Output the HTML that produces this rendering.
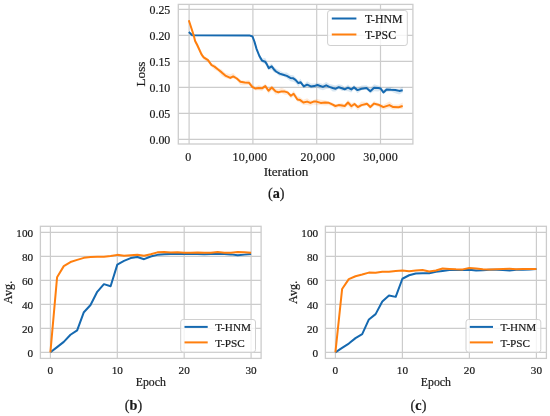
<!DOCTYPE html>
<html><head><meta charset="utf-8"><title>Figure</title>
<style>html,body{margin:0;padding:0;background:#fff;}body{width:550px;height:416px;overflow:hidden;}svg{display:block;}text{font-family:'Liberation Serif', 'Times New Roman', serif;fill:#1a1a1a;stroke:#1a1a1a;stroke-width:0.2px;}</style>
</head><body>
<svg width="550" height="416" viewBox="0 0 550 416">
<rect x="0" y="0" width="550" height="416" fill="#fff"/>
<g stroke="#cccccc" stroke-width="1.2"><line x1="189.1" y1="4.4" x2="189.1" y2="144"/><line x1="252.9" y1="4.4" x2="252.9" y2="144"/><line x1="316.7" y1="4.4" x2="316.7" y2="144"/><line x1="380.5" y1="4.4" x2="380.5" y2="144"/><line x1="178.3" y1="139.4" x2="412.9" y2="139.4"/><line x1="178.3" y1="113.4" x2="412.9" y2="113.4"/><line x1="178.3" y1="87.4" x2="412.9" y2="87.4"/><line x1="178.3" y1="61.4" x2="412.9" y2="61.4"/><line x1="178.3" y1="35.4" x2="412.9" y2="35.4"/><line x1="178.3" y1="9.4" x2="412.9" y2="9.4"/></g>
<rect x="178.3" y="4.4" width="234.6" height="139.6" fill="none" stroke="#cccccc" stroke-width="1.3"/>
<polygon points="252.5,34.55 254.4,39.26 256.5,46.01 259.4,54.53 262,58.6 265.2,58.11 266.6,60.65 268.8,65.38 271.7,63.49 273.8,66.63 276,68.61 279.6,70.52 283.2,72.61 286.8,72.59 290.4,74.91 293.3,75.32 295.5,77.51 298.4,80.7 300.5,78.86 303.8,84.67 307.1,81.17 310.9,83.61 314.2,83.56 317.4,82.8 319.6,83.1 322.9,83.99 326.2,82.01 329.4,84.01 332.7,84.7 335.4,85.41 338.7,84.22 342,85.06 344.7,87.24 348,84.42 351.3,87.77 354,85.07 357.5,88.03 361.5,85.47 366.5,85.23 370.3,88.31 374.1,84.36 378.4,85.47 380.6,86.39 383.4,89.66 386.6,87.53 391,87.04 395.3,88.47 399.2,88.78 402.7,86.82 402.7,92.46 399.2,94.41 395.3,93.31 391,91.58 386.6,91.72 383.4,93.91 380.6,90.11 378.4,91.6 374.1,91.26 370.3,93.45 366.5,89.54 361.5,90.34 357.5,93.2 354,89.17 351.3,92.57 348,91.28 344.7,90.88 342,90.98 338.7,89.1 335.4,91.47 332.7,91.52 329.4,88.69 326.2,88.88 322.9,90.35 319.6,89.19 317.4,87.7 314.2,88.37 310.9,88.49 307.1,87.08 303.8,88.31 300.5,83.85 298.4,86.56 295.5,82.97 293.3,81.73 290.4,81.24 286.8,78.36 283.2,76.21 279.6,76.32 276,73.08 273.8,72.24 271.7,69.61 268.8,69.97 266.6,66.37 265.2,64.16 262,62.55 259.4,59.25 256.5,50.38 254.4,44.24 252.5,39.12" fill="#1569b0" fill-opacity="0.16" stroke="none"/>
<polygon points="195.1,38.86 197.2,42.15 201.5,51.8 203.7,55.73 208,58.58 211.6,63.61 214.5,64.24 218.1,67.79 221.7,69.6 225.3,72.91 230.3,74.35 233.2,73.11 236.8,76.75 240.4,79.69 244.8,80.67 249.1,79.98 252.2,84.18 255.5,87.03 258.7,84.99 262,86.18 265.3,83.68 268.5,87.64 271.8,85.53 275.6,88.83 278.4,89.18 281.6,87.84 284.9,89.26 287.6,90.63 290.9,94.18 293.6,90.71 297.4,96.17 300.2,97.16 303.4,99.81 307.1,98.35 310.4,100.44 313.6,100.03 316.4,98.76 320.7,99.68 325.1,100.23 328.4,101.21 332.2,102.6 335.4,104.43 338.7,103.38 342,103.12 344.7,104.39 348,99.87 351.3,102.99 354.5,101.96 357.8,104.89 361.5,101.59 367,101.98 370.3,104.96 374.1,100.89 378.4,103.25 383.4,104.86 389.4,101.6 393.2,104.55 398.6,104.4 402.7,102.62 402.7,109.12 398.6,108.86 393.2,109.87 389.4,108.03 383.4,109.76 378.4,107.04 374.1,105.61 370.3,109.39 367,105.74 361.5,106.87 357.8,110.45 354.5,106.34 351.3,109.51 348,105.85 344.7,108.41 342,108.72 338.7,107.07 335.4,109.1 332.2,106.09 328.4,105.14 325.1,105.38 320.7,104.95 316.4,105.19 313.6,104.56 310.4,105.77 307.1,105.08 303.4,104.93 300.2,102.82 297.4,101.62 293.6,96.48 290.9,98.58 287.6,94.9 284.9,94.68 281.6,93.1 278.4,94.26 275.6,94.73 271.8,90.18 268.5,93.75 265.3,88.19 262,91 258.7,90.26 255.5,90.48 252.2,88.38 249.1,85.04 244.8,85.2 240.4,85 236.8,80.19 233.2,78.47 230.3,79.44 225.3,77.9 221.7,75.89 218.1,71.42 214.5,69.83 211.6,66.84 208,62.48 203.7,59.84 201.5,56.63 197.2,46.6 195.1,42.77" fill="#ff7f0e" fill-opacity="0.16" stroke="none"/>
<polyline points="188.8,32.1 192.2,35.2 249.3,35.4 252.5,36.5 254.4,41.5 256.5,48.8 259.4,56 262,60.6 265.2,61.7 266.6,63.9 268.8,68.2 271.7,66.3 273.8,69.2 276,71.5 279.6,73.6 283.2,74.7 286.8,75.9 290.4,77.9 293.3,78.3 295.5,79.8 298.4,83.1 300.5,82.2 303.8,86.4 307.1,84.7 310.9,86.4 314.2,86.1 317.4,85 319.6,85.8 322.9,86.9 326.2,85.3 329.4,86.9 332.7,88 335.4,88.8 338.7,87.2 342,88.3 344.7,89.3 348,87.7 351.3,89.4 354,87.4 357.5,90.1 361.5,88.8 366.5,88 370.3,91.3 374.1,87.7 378.4,88 380.6,88.5 383.4,92.4 386.6,89.4 391,89.8 395.3,90 399.2,90.9 402.7,90.2" fill="none" stroke="#1569b0" stroke-width="2" stroke-linejoin="round" stroke-linecap="butt"/>
<polyline points="188.8,20.3 193.7,35.2 195.1,41 197.2,45 201.5,54.4 203.7,57.3 208,60.1 211.6,65.2 214.5,66.6 218.1,69.5 221.7,72.4 225.3,75.6 230.3,77.9 233.2,76.4 236.8,78.5 240.4,81.8 244.8,82.5 249.1,82.8 252.2,86.8 255.5,88.6 258.7,87.9 262,88.3 265.3,86.1 268.5,90.8 271.8,87.5 275.6,91.4 278.4,92.2 281.6,91.4 284.9,91.6 287.6,92.4 290.9,95.7 293.6,93.8 297.4,99.5 300.2,100.1 303.4,102.5 307.1,101.6 310.4,102.9 313.6,101.6 316.4,101.6 320.7,102.9 325.1,102.5 328.4,102.7 332.2,104.4 335.4,106 338.7,105.1 342,105.4 344.7,106 348,102.5 351.3,106.2 354.5,104 357.8,107.1 361.5,105.1 367,103.8 370.3,106.9 374.1,103.6 378.4,104.7 383.4,107.1 389.4,105.1 393.2,107.1 398.6,107.3 402.7,106" fill="none" stroke="#ff7f0e" stroke-width="2" stroke-linejoin="round" stroke-linecap="butt"/>
<rect x="327.6" y="10.5" width="79.7" height="35" rx="2.5" fill="#fff" fill-opacity="0.8" stroke="#d0d0d0" stroke-width="1"/>
<line x1="331.8" y1="18.5" x2="356.4" y2="18.5" stroke="#1569b0" stroke-width="2"/>
<line x1="331.8" y1="34.5" x2="356.4" y2="34.5" stroke="#ff7f0e" stroke-width="2"/>
<text x="365" y="22.6" font-size="11.8">T-HNM</text>
<text x="365" y="38.6" font-size="11.8">T-PSC</text>
<text x="170.3" y="143.8" font-size="11.9" text-anchor="end">0.00</text>
<text x="170.3" y="117.8" font-size="11.9" text-anchor="end">0.05</text>
<text x="170.3" y="91.8" font-size="11.9" text-anchor="end">0.10</text>
<text x="170.3" y="65.8" font-size="11.9" text-anchor="end">0.15</text>
<text x="170.3" y="39.8" font-size="11.9" text-anchor="end">0.20</text>
<text x="170.3" y="13.8" font-size="11.9" text-anchor="end">0.25</text>
<text x="188.3" y="160.9" font-size="12" letter-spacing="0.3" text-anchor="middle">0</text>
<text x="249.95" y="160.9" font-size="12" letter-spacing="0.3" text-anchor="middle">10,000</text>
<text x="317.85" y="160.9" font-size="12" letter-spacing="0.3" text-anchor="middle">20,000</text>
<text x="380.65" y="160.9" font-size="12" letter-spacing="0.3" text-anchor="middle">30,000</text>
<text x="286" y="176.4" font-size="13.2" text-anchor="middle">Iteration</text>
<text transform="translate(145.4,74) rotate(-90)" x="0" y="0" font-size="13.2" text-anchor="middle">Loss</text>
<text x="276.3" y="197.8" font-size="14.2" text-anchor="middle">(<tspan font-weight="bold">a</tspan>)</text>
<g stroke="#cccccc" stroke-width="1.2"><line x1="50.4" y1="226.3" x2="50.4" y2="358.4"/><line x1="117.3" y1="226.3" x2="117.3" y2="358.4"/><line x1="184.2" y1="226.3" x2="184.2" y2="358.4"/><line x1="251.1" y1="226.3" x2="251.1" y2="358.4"/><line x1="40.4" y1="352.3" x2="261.1" y2="352.3"/><line x1="40.4" y1="328.3" x2="261.1" y2="328.3"/><line x1="40.4" y1="304.3" x2="261.1" y2="304.3"/><line x1="40.4" y1="280.3" x2="261.1" y2="280.3"/><line x1="40.4" y1="256.3" x2="261.1" y2="256.3"/><line x1="40.4" y1="232.3" x2="261.1" y2="232.3"/></g>
<rect x="40.4" y="226.3" width="220.7" height="132.1" fill="none" stroke="#cccccc" stroke-width="1.3"/>
<polyline points="50.4,352.3 57.09,347.14 63.78,341.86 70.47,334.78 77.16,330.34 83.85,312.22 90.54,305.02 97.23,291.82 103.92,284.14 110.61,286.18 117.3,264.58 123.99,260.86 130.68,258.1 137.37,257.02 144.06,259.18 150.75,256.54 157.44,254.86 164.13,254.26 170.82,253.9 177.51,253.9 184.2,253.9 190.89,253.9 197.58,253.9 204.27,254.14 210.96,253.9 217.65,253.66 224.34,253.9 231.03,254.38 237.72,255.34 244.41,254.62 251.1,253.9" fill="none" stroke="#1569b0" stroke-width="2" stroke-linejoin="round" stroke-linecap="butt"/>
<polyline points="50.4,352.3 57.09,277.18 63.78,266.14 70.47,262.06 77.16,259.9 83.85,257.86 90.54,256.9 97.23,256.78 103.92,256.78 110.61,256.06 117.3,254.86 123.99,255.82 130.68,255.34 137.37,254.86 144.06,255.82 150.75,254.26 157.44,252.34 164.13,251.98 170.82,252.46 177.51,252.34 184.2,252.7 190.89,252.7 197.58,252.46 204.27,252.7 210.96,252.7 217.65,252.1 224.34,252.7 231.03,252.7 237.72,252.1 244.41,252.34 251.1,252.7" fill="none" stroke="#ff7f0e" stroke-width="2" stroke-linejoin="round" stroke-linecap="butt"/>
<rect x="180.7" y="319.5" width="74.8" height="32.7" rx="2.5" fill="#fff" fill-opacity="0.8" stroke="#d0d0d0" stroke-width="1"/>
<line x1="184.5" y1="326.9" x2="207.7" y2="326.9" stroke="#1569b0" stroke-width="2"/>
<line x1="184.5" y1="342.4" x2="207.7" y2="342.4" stroke="#ff7f0e" stroke-width="2"/>
<text x="215.3" y="331.2" font-size="11.2">T-HNM</text>
<text x="215.3" y="346.7" font-size="11.2">T-PSC</text>
<text x="33.1" y="356.8" font-size="11.2" text-anchor="end">0</text>
<text x="33.1" y="332.8" font-size="11.2" text-anchor="end">20</text>
<text x="33.1" y="308.8" font-size="11.2" text-anchor="end">40</text>
<text x="33.1" y="284.8" font-size="11.2" text-anchor="end">60</text>
<text x="33.1" y="260.8" font-size="11.2" text-anchor="end">80</text>
<text x="33.1" y="236.8" font-size="11.2" text-anchor="end">100</text>
<text x="50.4" y="373.9" font-size="11.2" text-anchor="middle">0</text>
<text x="117.3" y="373.9" font-size="11.2" text-anchor="middle">10</text>
<text x="184.2" y="373.9" font-size="11.2" text-anchor="middle">20</text>
<text x="251.1" y="373.9" font-size="11.2" text-anchor="middle">30</text>
<text x="150.75" y="386" font-size="11.8" text-anchor="middle">Epoch</text>
<text transform="translate(11.8,292.35) rotate(-90)" font-size="12.2" text-anchor="middle">Avg.</text>
<text x="133.5" y="410" font-size="14.2" text-anchor="middle">(<tspan font-weight="bold">b</tspan>)</text>
<g stroke="#cccccc" stroke-width="1.2"><line x1="335.4" y1="226.3" x2="335.4" y2="358.4"/><line x1="402.4" y1="226.3" x2="402.4" y2="358.4"/><line x1="469.4" y1="226.3" x2="469.4" y2="358.4"/><line x1="536.4" y1="226.3" x2="536.4" y2="358.4"/><line x1="325.4" y1="352.3" x2="546.4" y2="352.3"/><line x1="325.4" y1="328.3" x2="546.4" y2="328.3"/><line x1="325.4" y1="304.3" x2="546.4" y2="304.3"/><line x1="325.4" y1="280.3" x2="546.4" y2="280.3"/><line x1="325.4" y1="256.3" x2="546.4" y2="256.3"/><line x1="325.4" y1="232.3" x2="546.4" y2="232.3"/></g>
<rect x="325.4" y="226.3" width="221" height="132.1" fill="none" stroke="#cccccc" stroke-width="1.3"/>
<polyline points="335.4,352.3 342.1,347.86 348.8,343.54 355.5,338.14 362.2,334.18 368.9,319.42 375.6,314.14 382.3,301.42 389,295.42 395.7,296.86 402.4,278.74 409.1,275.26 415.8,273.58 422.5,273.34 429.2,273.34 435.9,271.66 442.6,270.94 449.3,270.1 456,270.1 462.7,270.1 469.4,269.74 476.1,270.46 482.8,270.34 489.5,269.74 496.2,269.74 502.9,270.1 509.6,270.46 516.3,269.74 523,269.74 529.7,269.5 536.4,268.9" fill="none" stroke="#1569b0" stroke-width="2" stroke-linejoin="round" stroke-linecap="butt"/>
<polyline points="335.4,352.3 342.1,289.06 348.8,279.1 355.5,276.22 362.2,274.54 368.9,272.62 375.6,272.86 382.3,271.78 389,271.78 395.7,270.94 402.4,270.58 409.1,271.3 415.8,270.58 422.5,269.98 429.2,271.42 435.9,270.46 442.6,268.42 449.3,268.9 456,269.26 462.7,269.38 469.4,267.94 476.1,268.54 482.8,269.26 489.5,269.38 496.2,269.14 502.9,268.9 509.6,268.78 516.3,269.14 523,268.9 529.7,268.9 536.4,268.9" fill="none" stroke="#ff7f0e" stroke-width="2" stroke-linejoin="round" stroke-linecap="butt"/>
<rect x="466" y="319.5" width="74.8" height="32.7" rx="2.5" fill="#fff" fill-opacity="0.8" stroke="#d0d0d0" stroke-width="1"/>
<line x1="469.8" y1="326.9" x2="493" y2="326.9" stroke="#1569b0" stroke-width="2"/>
<line x1="469.8" y1="342.4" x2="493" y2="342.4" stroke="#ff7f0e" stroke-width="2"/>
<text x="500.6" y="331.2" font-size="11.2">T-HNM</text>
<text x="500.6" y="346.7" font-size="11.2">T-PSC</text>
<text x="318.1" y="356.8" font-size="11.2" text-anchor="end">0</text>
<text x="318.1" y="332.8" font-size="11.2" text-anchor="end">20</text>
<text x="318.1" y="308.8" font-size="11.2" text-anchor="end">40</text>
<text x="318.1" y="284.8" font-size="11.2" text-anchor="end">60</text>
<text x="318.1" y="260.8" font-size="11.2" text-anchor="end">80</text>
<text x="318.1" y="236.8" font-size="11.2" text-anchor="end">100</text>
<text x="335.4" y="373.9" font-size="11.2" text-anchor="middle">0</text>
<text x="402.4" y="373.9" font-size="11.2" text-anchor="middle">10</text>
<text x="469.4" y="373.9" font-size="11.2" text-anchor="middle">20</text>
<text x="536.4" y="373.9" font-size="11.2" text-anchor="middle">30</text>
<text x="435.9" y="386" font-size="11.8" text-anchor="middle">Epoch</text>
<text transform="translate(296.8,292.35) rotate(-90)" font-size="12.2" text-anchor="middle">Avg.</text>
<text x="418.5" y="410" font-size="14.2" text-anchor="middle">(<tspan font-weight="bold">c</tspan>)</text>
</svg>
</body></html>
